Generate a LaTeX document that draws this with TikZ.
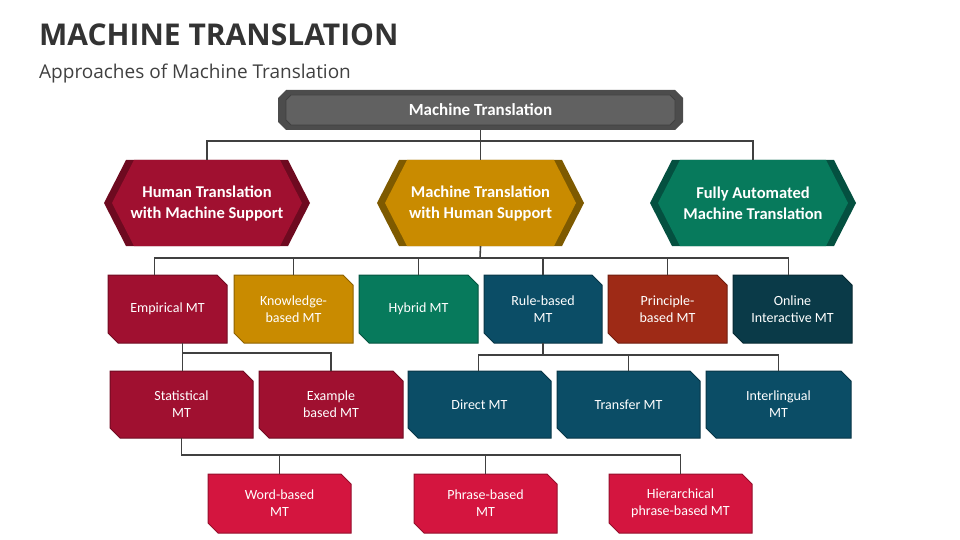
\documentclass[tikz,border=0pt]{standalone}
\usepackage{fontspec}
\setmainfont{Carlito}
\newfontfamily\titlefont{Open Sans}
\definecolor{crim}{HTML}{A01030}
\definecolor{crimD}{HTML}{6E0A20}
\definecolor{gold}{HTML}{C98B00}
\definecolor{goldD}{HTML}{7E5A00}
\definecolor{grn}{HTML}{077A5C}
\definecolor{grnD}{HTML}{045040}
\definecolor{teal}{HTML}{0B4D66}
\definecolor{rust}{HTML}{9E2A16}
\definecolor{dteal}{HTML}{0A3A48}
\definecolor{red2}{HTML}{D4153F}
\definecolor{lin}{HTML}{404040}
\tikzset{
 lbl/.style={text=white,align=center,inner sep=0pt,font=\fontsize{14}{17}\selectfont},
 hlbl/.style={text=white,align=center,inner sep=0pt,font=\bfseries\fontsize{16.5}{21}\selectfont},
 conn/.style={draw=lin,line width=1.6pt}
}
% cut box: name, x1,y1,x2,y2, color, text
\newcommand{\cbox}[7]{%
 \fill[#6,draw=#6!70!black,line width=1pt] (#2,#3) -- (#4-10,#3) -- (#4,#3+10) -- (#4,#5) -- (#2+10,#5) -- (#2,#5-10) -- cycle;
 \node[lbl,minimum width=#4-#2,minimum height=#5-#3] (#1) at ({(#2+#4)/2},{(#3+#5)/2}) {#7};}
% hexagon: name, x1,y1,x2,y2, dark, light, text
\newcommand{\hexa}[8]{%
 \fill[#6] (#2,{(#3+#5)/2}) -- (#2+22,#3) -- (#4-22,#3) -- (#4,{(#3+#5)/2}) -- (#4-22,#5) -- (#2+22,#5) -- cycle;
 \fill[#7] (#2+8,{(#3+#5)/2}) -- (#2+30,#3) -- (#4-30,#3) -- (#4-8,{(#3+#5)/2}) -- (#4-30,#5) -- (#2+30,#5) -- cycle;
 \node[hlbl,minimum width=#4-#2,minimum height=#5-#3] (#1) at ({(#2+#4)/2},{(#3+#5)/2}) {#8};}
\begin{document}
\begin{tikzpicture}[x=1pt,y=-1pt]
\useasboundingbox (0,0) rectangle (960,540);
\node[anchor=west,inner sep=0pt,font=\titlefont\bfseries\fontsize{30}{34}\selectfont,text=black!80] (title) at (39,35) {MACHINE TRANSLATION};
\node[anchor=west,inner sep=0pt,font=\titlefont\fontsize{19}{22}\selectfont,text=black!75] (sub) at (39,74) {Approaches of Machine Translation};
% top box
\fill[black!70] (278,98) -- (286,90) -- (675,90) -- (683,98) -- (683,122) -- (675,130) -- (286,130) -- (278,122) -- cycle;
\fill[black!62,draw=black!75,line width=0.8pt] (286,100) -- (291,95) -- (670,95) -- (675,100) -- (675,120) -- (670,125) -- (291,125) -- (286,120) -- cycle;
\node[hlbl,font=\bfseries\fontsize{17}{20}\selectfont,minimum width=405,minimum height=40] (mt) at (480.5,110) {Machine Translation};
% hexagons
\hexa{h1}{104}{160}{310}{246}{crimD}{crim}{Human Translation\\with Machine Support}
\hexa{h2}{377}{160}{584}{246}{goldD}{gold}{Machine Translation\\with Human Support}
\hexa{h3}{650}{160}{856}{246}{grnD}{grn}{Fully Automated\\Machine Translation}
% row 2
\cbox{b1}{108}{275}{227}{343}{crim}{Empirical MT}
\cbox{b2}{234}{275}{353}{343}{gold}{Knowledge-\\based MT}
\cbox{b3}{359}{275}{478}{343}{grn}{Hybrid MT}
\cbox{b4}{484}{275}{602}{343}{teal}{Rule-based\\MT}
\cbox{b5}{608}{275}{727}{343}{rust}{Principle-\\based MT}
\cbox{b6}{733}{275}{852}{343}{dteal}{Online\\Interactive MT}
% row 3
\cbox{s1}{110}{371}{253}{438}{crim}{Statistical\\MT}
\cbox{s2}{259}{371}{403}{438}{crim}{Example\\based MT}
\cbox{r1}{408}{371}{551}{438}{teal}{Direct MT}
\cbox{r2}{557}{371}{700}{438}{teal}{Transfer MT}
\cbox{r3}{706}{371}{851}{438}{teal}{Interlingual\\MT}
% row 4
\cbox{w1}{208}{474}{351}{533}{red2}{Word-based\\MT}
\cbox{w2}{414}{474}{557}{533}{red2}{Phrase-based\\MT}
\cbox{w3}{609}{474}{752}{533}{red2}{Hierarchical\\phrase-based MT}
% connectors
\draw[conn] (mt.south) -- (h2.north);
\draw[conn] (h1.north) |- (480,141) -| (h3.north);
\draw[conn] (h2.south) -- (480,258);
\draw[conn] ([xshift=-13]b1.north) |- (480,258) -| ([xshift=-4]b6.north);
\draw[conn] (b2.north) -- ++(0,-17);
\draw[conn] (b3.north) -- ++(0,-17);
\draw[conn] (b4.north) -- ++(0,-17);
\draw[conn] (b5.north) -- ++(0,-17);
\draw[conn] ([xshift=15]b1.south) -- ++(0,10) -| (s2.north);
\draw[conn] ([xshift=15]b1.south) -- ++(0,28);
\draw[conn] (b4.south) -- ++(0,12) -| (r3.north);
\draw[conn] (b4.south) -- ++(0,12) -| ([xshift=-1]r1.north);
\draw[conn] (r2.north) -- ++(0,-16);
\draw[conn] (s1.south) -- ++(0,17) -| (w3.north);
\draw[conn] (s1.south) -- ++(0,17) -| (w1.north);
\draw[conn] (w2.north) -- ++(0,-19);
\end{tikzpicture}
\end{document}
